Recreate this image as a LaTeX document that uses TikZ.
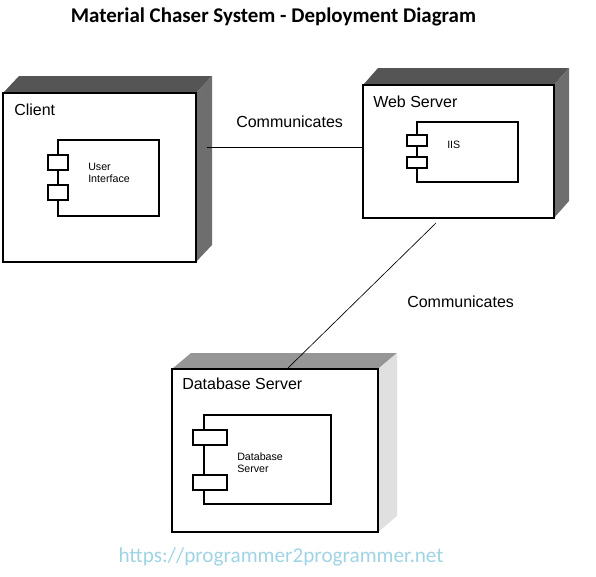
\documentclass[tikz,border=0pt]{standalone}
\usepackage{fontspec}
\setmainfont{Liberation Sans}
\newfontfamily\titlefont{Carlito}
\usetikzlibrary{calc,backgrounds}

\definecolor{topdark}{RGB}{85,85,85}
\definecolor{sidedark}{RGB}{110,110,110}
\definecolor{toplight}{RGB}{150,150,150}
\definecolor{sidelight}{RGB}{224,224,224}
\definecolor{urlblue}{RGB}{160,212,228}

% top and side faces of a deployment node: name, dx, dy, top colour, side colour
\newcommand{\nodefaces}[5]{%
	\begin{scope}[on background layer]
	\fill[#4] (#1.north west) -- ++(#2,-#3) -- ($(#1.north east)+(#2,-#3)$) -- (#1.north east) -- cycle;
	\fill[#5] (#1.north east) -- ++(#2,-#3) -- ($(#1.south east)+(#2,-#3)$) -- (#1.south east) -- cycle;
	\end{scope}}

\begin{document}
\begin{tikzpicture}[x=0.75pt,y=0.75pt,yscale=-1,xscale=1,
	nodebox/.style={draw, fill=white, line width=0.8pt, anchor=north west, inner sep=0pt, outer sep=0pt},
	compbox/.style={draw, fill=white, line width=0.8pt, anchor=north west, inner sep=0pt, outer sep=0pt},
	portbox/.style={draw, fill=white, line width=0.8pt, anchor=north west, inner sep=0pt, outer sep=0pt},
	nodelabel/.style={anchor=west, inner sep=0.75pt, font=\fontsize{12}{14}\selectfont},
	complabel/.style={anchor=west, inner sep=0.75pt, align=left, font=\fontsize{8}{9}\selectfont}]
	\useasboundingbox (0,0) rectangle (596,576);

	% Title
	\draw (273.5,17) node [inner sep=0pt] (title) {\titlefont\bfseries\fontsize{15.7}{18}\selectfont Material Chaser System - Deployment Diagram};

	% Client
	\node [nodebox, minimum width=193*0.75pt, minimum height=169*0.75pt] (client) at (3,93) {};
	\nodefaces{client}{16}{17}{topdark}{sidedark}
	\draw (13,110) node [nodelabel] (clientlbl) {Client};
	\node [compbox, minimum width=101*0.75pt, minimum height=76*0.75pt] (ui) at (58,140) {};
	\node [portbox, minimum width=20*0.75pt, minimum height=15*0.75pt] (uia) at (48,155) {};
	\node [portbox, minimum width=20*0.75pt, minimum height=15*0.75pt] (uib) at (48,185) {};
	\draw (87,173) node [complabel] (uilbl) {User\\Interface};

	% Web Server
	\node [nodebox, minimum width=191*0.75pt, minimum height=133*0.75pt] (web) at (363,85) {};
	\nodefaces{web}{15}{17}{topdark}{sidedark}
	\draw (372,102) node [nodelabel] (weblbl) {Web Server};
	\node [compbox, minimum width=101*0.75pt, minimum height=60*0.75pt] (iis) at (417,122) {};
	\node [portbox, minimum width=20*0.75pt, minimum height=11*0.75pt] (iisa) at (407,135) {};
	\node [portbox, minimum width=20*0.75pt, minimum height=11*0.75pt] (iisb) at (407,157) {};
	\draw (446,145) node [complabel] (iislbl) {IIS};

	% Database Server
	\node [nodebox, minimum width=206*0.75pt, minimum height=163*0.75pt] (db) at (172,369) {};
	\nodefaces{db}{19}{16}{toplight}{sidelight}
	\draw (181,384) node [nodelabel] (dblbl) {Database Server};
	\node [compbox, minimum width=127*0.75pt, minimum height=89*0.75pt] (dbc) at (204,415) {};
	\node [portbox, minimum width=34*0.75pt, minimum height=15*0.75pt] (dbca) at (193,430) {};
	\node [portbox, minimum width=34*0.75pt, minimum height=15*0.75pt] (dbcb) at (193,475) {};
	\draw (236,463) node [complabel] (dbclbl) {Database\\Server};

	% Connection
	\coordinate (cw) at (207,147);
	\draw [line width=0.6pt] (cw) -- (cw -| web.west);
	\draw (235,122) node [nodelabel] (comm1) {Communicates};
	% Connection
	\coordinate (wd) at (436,223);
	\draw [line width=0.5pt] (wd) -- ([xshift=9pt]db.north);
	\draw (406,302) node [nodelabel] (comm2) {Communicates};

	% Footer
	\draw (281,557) node [inner sep=0pt, text=urlblue] (url) {\titlefont\fontsize{15.9}{18}\selectfont https://programmer2programmer.net};
\end{tikzpicture}
\end{document}
